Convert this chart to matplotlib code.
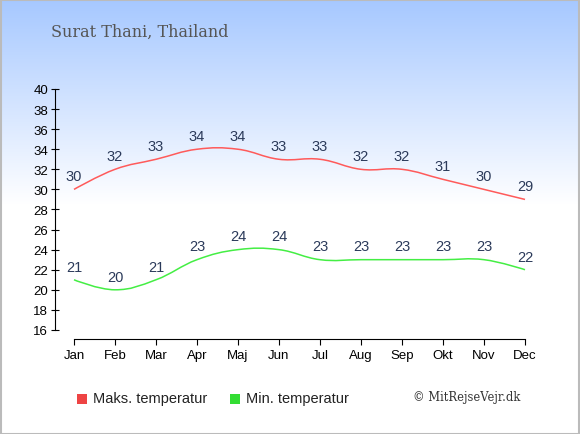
import numpy as np
import matplotlib
matplotlib.use("Agg")
import matplotlib.pyplot as plt
from matplotlib.path import Path
from matplotlib.patches import PathPatch, Rectangle

# data
maaneder = ["Jan", "Feb", "Mar", "Apr", "Maj", "Jun", "Jul", "Aug", "Sep", "Okt", "Nov", "Dec"]
maks = [30, 32, 33, 34, 34, 33, 33, 32, 32, 31, 30, 29]
mini = [21, 20, 21, 23, 24, 24, 23, 23, 23, 23, 23, 22]
y_ticks = list(range(16, 41, 2))

titel = "Surat Thani, Thailand"
W, H = 580, 435


def spline_path(xs, ys, smoothing=1.5):
    # glat kurve som bezier-segmenter gennem punkterne
    n = len(xs)
    verts = [(xs[0], ys[0])]
    codes = [Path.MOVETO]
    right_prev = (xs[0], ys[0])
    for i in range(1, n):
        px, py = xs[i], ys[i]
        if i < n - 1:
            lx, ly = xs[i - 1], ys[i - 1]
            nx, ny = xs[i + 1], ys[i + 1]
            d = smoothing + 1
            lcx = (smoothing * px + lx) / d
            lcy = (smoothing * py + ly) / d
            rcx = (smoothing * px + nx) / d
            rcy = (smoothing * py + ny) / d
            corr = (rcy - lcy) * (rcx - px) / (rcx - lcx) + py - rcy
            left_c = (lcx, lcy + corr)
            right_c = (rcx, rcy + corr)
        else:
            left_c = (px, py)
            right_c = (px, py)
        verts += [right_prev, left_c, (px, py)]
        codes += [Path.CURVE4] * 3
        right_prev = right_c
    return Path(verts, codes)


fig = plt.figure(figsize=(W / 100, H / 100), dpi=100)

# baggrund med gradient
bg = fig.add_axes([0, 0, 1, 1], zorder=-10)
t = np.clip(np.arange(H) / 205.0, 0, 1)
top = np.array([166, 200, 255]) / 255.0
grad = top[None, :] * (1 - t[:, None]) + np.ones(3)[None, :] * t[:, None]
bg.imshow(grad[:, None, :], aspect="auto", extent=[0, 1, 0, 1], origin="upper")
bg.set_axis_off()
bg.add_patch(Rectangle((0.001, 0.001), 0.997, 0.996, transform=bg.transAxes,
                       fill=False, edgecolor="#bbbbbb", lw=1.5))

# plot-omraade i pixels
left, right, top_px, bottom_px = 55, 530, 90, 340
ax = fig.add_axes([left / W, (H - bottom_px) / H, (right - left) / W, (bottom_px - top_px) / H])
ax.patch.set_alpha(0)
ax.set_xlim(-19 / 41, 11 + 5 / 41)
ax.set_ylim(40 - 250 / 10.04, 40)

x = np.arange(len(maaneder))
for serie, farve in [(maks, "#ff5a5a"), (mini, "#44ee44")]:
    ax.add_patch(PathPatch(spline_path(x, serie), fill=False, edgecolor=farve, lw=1.1))
    for xi, v in zip(x, serie):
        ax.annotate(str(v), (xi, v), xytext=(0, 9.5), textcoords="offset points",
                    ha="center", va="center", fontsize=10.5, color="#2b3a5a",
                    family="Liberation Sans", annotation_clip=False)

for s in ["top", "right"]:
    ax.spines[s].set_visible(False)
ax.spines["left"].set_bounds(16, 40)
ax.spines["bottom"].set_bounds(0, 11)
ax.set_yticks(y_ticks)
ax.set_xticks(x)
ax.set_xticklabels(maaneder)
ax.tick_params(axis="y", direction="inout", length=6, labelsize=9.5, pad=2)
ax.tick_params(axis="x", direction="out", length=4, labelsize=9.5, pad=3)
for lab in ax.get_xticklabels() + ax.get_yticklabels():
    lab.set_family("Liberation Sans")

fig.text(51 / W, 1 - 32 / H, titel, fontsize=11.5, family="DejaVu Serif", color="#555555", va="center")

# legende
for xs0, farve, tekst in [(77, "#ee4444", "Maks. temperatur"), (230, "#33dd33", "Min. temperatur")]:
    fig.patches.append(Rectangle((xs0 / W, 1 - 405 / H), 10 / W, 10 / H,
                                 transform=fig.transFigure, facecolor=farve, edgecolor="none"))
    fig.text((xs0 + 16) / W, 1 - 399 / H, tekst, fontsize=10.5, family="Liberation Sans",
             color="#222222", va="center")
fig.text(413 / W, 1 - 398 / H, "© MitRejseVejr.dk", fontsize=8.3, family="DejaVu Serif",
         color="#333333", va="center")

plt.savefig("out.png", dpi=100)
